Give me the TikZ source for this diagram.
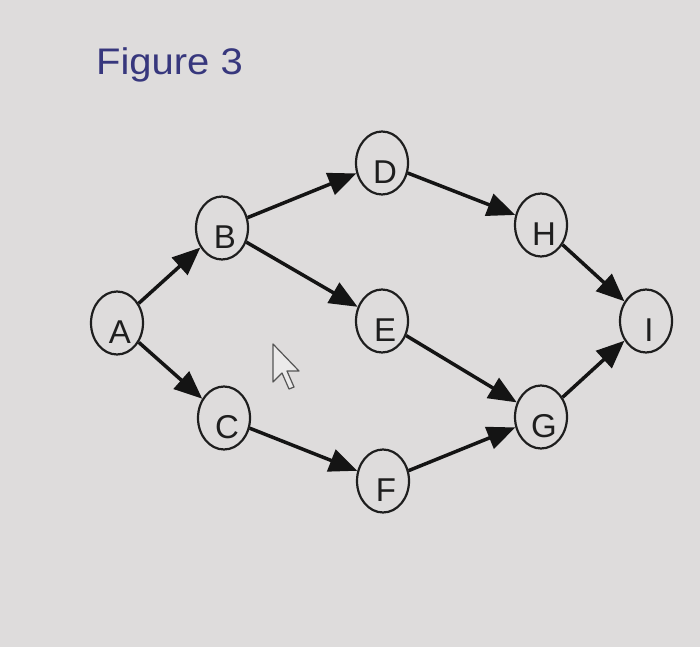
\documentclass[tikz,border=0pt]{standalone}
\usepackage{fontspec}
\usepackage{graphicx}
\setmainfont{Liberation Sans}
\usetikzlibrary{shapes.geometric,arrows.meta}
\definecolor{bg}{RGB}{222,220,220}
\definecolor{ink}{RGB}{30,30,30}
\definecolor{titleblue}{RGB}{55,55,125}
\definecolor{cursorgray}{RGB}{85,85,85}
\tikzset{
  st/.style={draw=ink, fill=bg, ellipse, minimum width=52pt, minimum height=63pt, inner sep=0pt, line width=2.2pt},
  lab/.style={text=ink, font=\fontsize{33}{36}\selectfont, inner sep=0pt, xshift=3pt, yshift=-9pt},
  arr/.style={line width=3.5pt, draw=black!92, -{Triangle[length=28pt,width=23pt]}},
}
\begin{document}
\begin{tikzpicture}[x=1pt,y=-1pt]
\fill[bg] (0,0) rectangle (700,647);
\useasboundingbox (0,0) rectangle (700,647);
\node[anchor=base west, inner sep=0pt, text=titleblue, font=\fontsize{37}{40}\selectfont] (title) at (96,75) {\scalebox{1.08}[1]{Figure 3}};

\node[st, label={[lab]center:A}] (A) at (117,323) {};
\node[st, label={[lab]center:B}] (B) at (222,228) {};
\node[st, label={[lab]center:C}] (C) at (224,418) {};
\node[st, label={[lab]center:D}] (D) at (382,163) {};
\node[st, label={[lab]center:E}] (E) at (382,321) {};
\node[st, label={[lab]center:F}] (F) at (383,481) {};
\node[st, label={[lab]center:G}] (G) at (541,417) {};
\node[st, label={[lab]center:H}] (H) at (541,225) {};
\node[st, label={[lab]center:I}] (I) at (646,321) {};

\draw[arr] (A) -- (B);
\draw[arr] (A) -- (C);
\draw[arr] (B) -- (D);
\draw[arr] (B) -- (E);
\draw[arr] (C) -- (F);
\draw[arr] (D) -- (H);
\draw[arr] (E) -- (G);
\draw[arr] (F) -- (G);
\draw[arr] (H) -- (I);
\draw[arr] (G) -- (I);

\draw[draw=cursorgray, fill=bg!60!white, line width=1.2pt, line join=round]
  (273,344) -- (273,382) -- (282,373) -- (289,389) -- (294,387) -- (287,371) -- (299,371) -- cycle;
\end{tikzpicture}
\end{document}
